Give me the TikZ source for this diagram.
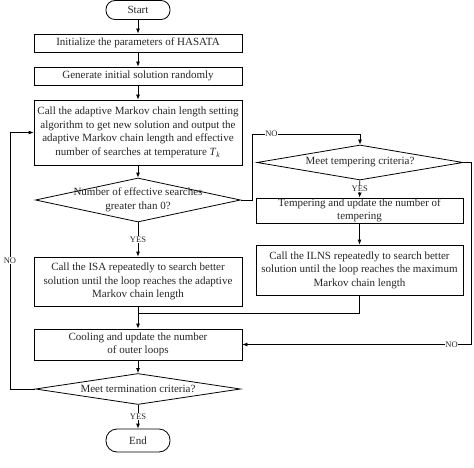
\documentclass[tikz,border=0pt]{standalone}
\usepackage{fontspec}
\setmainfont{Liberation Serif}
\usetikzlibrary{shapes.geometric,arrows.meta,calc}
\begin{document}
\begin{tikzpicture}[x=1pt,y=-1pt,
  every node/.style={text=black!85},
  proc/.style={draw=black, line width=0.8pt, rectangle, inner sep=0pt, align=center, font=\fontsize{11}{13.6}\selectfont},
  term/.style={draw=black, line width=0.8pt, rectangle, rounded corners=9pt, inner sep=0pt, minimum width=64pt, font=\fontsize{11}{13.6}\selectfont},
  dia/.style={draw=black, line width=0.8pt, diamond, inner sep=0pt},
  dtxt/.style={align=center, inner sep=0pt, font=\fontsize{11}{13.6}\selectfont},
  lbl/.style={fill=white, inner sep=0.6pt, font=\fontsize{8.5}{9}\selectfont},
  arr/.style={line width=0.8pt, -{Latex[length=5pt,width=4pt]}},
  ln/.style={line width=0.8pt}]
\useasboundingbox (0,0) rectangle (474,468);
\fill[white] (0,0) rectangle (474,468);

\node[term, minimum height=19pt] (start) at (138,10) {Start};
\node[proc, minimum width=208pt, minimum height=18pt] (init) at (138,43) {Initialize the parameters of HASATA};
\node[proc, minimum width=208pt, minimum height=18pt] (gen) at (138,76) {Generate initial solution randomly};
\node[proc, minimum width=208pt, minimum height=65pt] (call) at (138,132.5) {Call the adaptive Markov chain length setting\\algorithm to get new solution and output the\\adaptive Markov chain length and effective\\number of searches at temperature \textit{T}\textsubscript{\textit{k}}};
\node[dia, minimum width=205pt, minimum height=44pt] (d1) at (138,200) {};
\node[dtxt] (d1t) at (d1.center) {Number of effective searches\\greater than 0?};
\node[proc, minimum width=208pt, minimum height=49pt] (isa) at (138,281.5) {Call the ISA repeatedly to search better\\solution until the loop reaches the adaptive\\Markov chain length};
\node[proc, minimum width=208pt, minimum height=31pt] (cool) at (138,344.5) {Cooling and update the number\\of outer loops};
\node[dia, minimum width=205pt, minimum height=31pt] (d2) at (138,389) {};
\node[dtxt] (d2t) at (d2.center) {Meet termination criteria?};
\node[term, minimum height=23pt, rounded corners=11pt] (endn) at (138,440.5) {End};

\node[dia, minimum width=206pt, minimum height=35pt] (d3) at (360,162.5) {};
\node[dtxt] (d3t) at (d3.center) {Meet tempering criteria?};
\node[proc, minimum width=207pt, minimum height=25pt] (temp) at (359.5,210.5) {Tempering and update the number of\\tempering};
\node[proc, minimum width=207pt, minimum height=50pt] (ilns) at (359.5,270) {Call the ILNS repeatedly to search better\\solution until the loop reaches the maximum\\Markov chain length};

\coordinate (lx) at (10,0);
\coordinate (r1) at (252,134);
\coordinate (rx) at (471,0);
\coordinate (jn) at (138,313);

\draw[arr] (start) -- (init);
\draw[arr] (init) -- (gen);
\draw[arr] (gen) -- (call);
\draw[arr] (call) -- (d1);
\draw[arr] (d1) -- node[lbl] {YES} (isa);
\draw[arr] (isa) -- (cool);
\draw[arr] (cool) -- (d2);
\draw[arr] (d2) -- node[lbl] {YES} (endn);
\draw[arr] (d3) -- node[lbl] {YES} (temp);
\draw[arr] (temp) -- (ilns);
\draw[ln] (ilns.south) -- (ilns.south |- jn) -- (jn);
\draw[arr] (d2.west) -- (d2.west -| lx) -- node[lbl] {NO} (call.west -| lx) -- (call.west);
\draw[arr] (d1.east) -- (d1.east -| r1) -- (r1) -- node[lbl, pos=0.18] {NO} (r1 -| d3.north) -- (d3.north);
\draw[arr] (d3.east) -- (d3.east -| rx) -- (cool.east -| rx) -- node[lbl, pos=0.085] {NO} (cool.east);
\end{tikzpicture}
\end{document}
